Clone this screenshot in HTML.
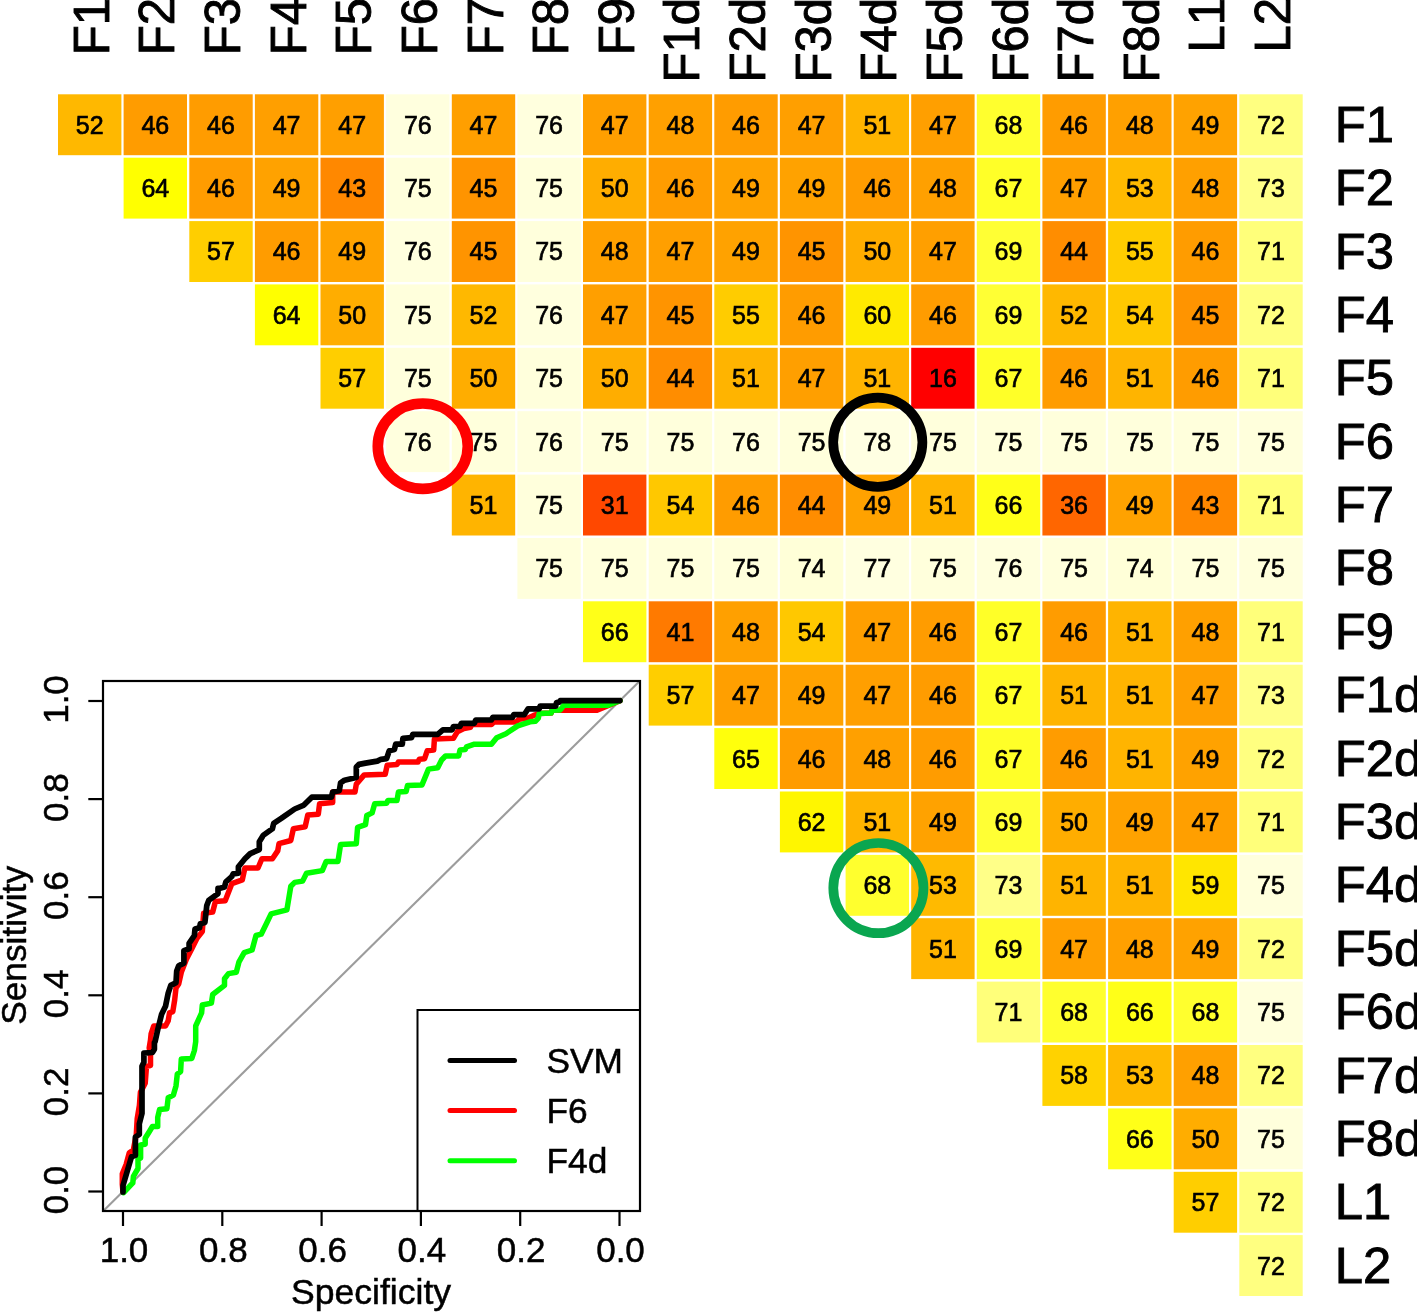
<!DOCTYPE html>
<html lang="en"><head><meta charset="utf-8"><title>Feature pair heatmap</title>
<style>html,body{margin:0;padding:0;background:#fff}svg{display:block}text.b{stroke:#000;stroke-width:0.5px}g.b text{stroke:#000;stroke-width:0.9px}g.v text{stroke:#000;stroke-width:0.65px}text{font-family:"Liberation Sans",Arial,Helvetica,sans-serif;fill:#000}</style>
</head><body>
<svg width="1417" height="1312" viewBox="0 0 1417 1312">
<rect x="0" y="0" width="1417" height="1312" fill="#fff"/>
<g id="cells">
<rect x="58.0" y="94.3" width="63.4" height="60.9" fill="#FFB800"/>
<rect x="123.6" y="94.3" width="63.4" height="60.9" fill="#FF9C00"/>
<rect x="189.3" y="94.3" width="63.4" height="60.9" fill="#FF9C00"/>
<rect x="254.9" y="94.3" width="63.4" height="60.9" fill="#FF9F00"/>
<rect x="320.5" y="94.3" width="63.4" height="60.9" fill="#FF9F00"/>
<rect x="386.1" y="94.3" width="63.4" height="60.9" fill="#FFFFDE"/>
<rect x="451.8" y="94.3" width="63.4" height="60.9" fill="#FF9F00"/>
<rect x="517.4" y="94.3" width="63.4" height="60.9" fill="#FFFFDE"/>
<rect x="583.0" y="94.3" width="63.4" height="60.9" fill="#FF9F00"/>
<rect x="648.7" y="94.3" width="63.4" height="60.9" fill="#FFA000"/>
<rect x="714.3" y="94.3" width="63.4" height="60.9" fill="#FF9C00"/>
<rect x="779.9" y="94.3" width="63.4" height="60.9" fill="#FF9F00"/>
<rect x="845.6" y="94.3" width="63.4" height="60.9" fill="#FFB400"/>
<rect x="911.2" y="94.3" width="63.4" height="60.9" fill="#FF9F00"/>
<rect x="976.8" y="94.3" width="63.4" height="60.9" fill="#FFFF2E"/>
<rect x="1042.4" y="94.3" width="63.4" height="60.9" fill="#FF9C00"/>
<rect x="1108.1" y="94.3" width="63.4" height="60.9" fill="#FFA000"/>
<rect x="1173.7" y="94.3" width="63.4" height="60.9" fill="#FFA200"/>
<rect x="1239.3" y="94.3" width="63.4" height="60.9" fill="#FFFF80"/>
<rect x="123.6" y="157.7" width="63.4" height="60.9" fill="#FFFF00"/>
<rect x="189.3" y="157.7" width="63.4" height="60.9" fill="#FF9C00"/>
<rect x="254.9" y="157.7" width="63.4" height="60.9" fill="#FFA200"/>
<rect x="320.5" y="157.7" width="63.4" height="60.9" fill="#FF8800"/>
<rect x="386.1" y="157.7" width="63.4" height="60.9" fill="#FFFFDC"/>
<rect x="451.8" y="157.7" width="63.4" height="60.9" fill="#FF9400"/>
<rect x="517.4" y="157.7" width="63.4" height="60.9" fill="#FFFFDC"/>
<rect x="583.0" y="157.7" width="63.4" height="60.9" fill="#FFAD00"/>
<rect x="648.7" y="157.7" width="63.4" height="60.9" fill="#FF9C00"/>
<rect x="714.3" y="157.7" width="63.4" height="60.9" fill="#FFA200"/>
<rect x="779.9" y="157.7" width="63.4" height="60.9" fill="#FFA200"/>
<rect x="845.6" y="157.7" width="63.4" height="60.9" fill="#FF9C00"/>
<rect x="911.2" y="157.7" width="63.4" height="60.9" fill="#FFA000"/>
<rect x="976.8" y="157.7" width="63.4" height="60.9" fill="#FFFF28"/>
<rect x="1042.4" y="157.7" width="63.4" height="60.9" fill="#FF9F00"/>
<rect x="1108.1" y="157.7" width="63.4" height="60.9" fill="#FFBA00"/>
<rect x="1173.7" y="157.7" width="63.4" height="60.9" fill="#FFA000"/>
<rect x="1239.3" y="157.7" width="63.4" height="60.9" fill="#FFFF88"/>
<rect x="189.3" y="221.1" width="63.4" height="60.9" fill="#FFCE00"/>
<rect x="254.9" y="221.1" width="63.4" height="60.9" fill="#FF9C00"/>
<rect x="320.5" y="221.1" width="63.4" height="60.9" fill="#FFA200"/>
<rect x="386.1" y="221.1" width="63.4" height="60.9" fill="#FFFFDE"/>
<rect x="451.8" y="221.1" width="63.4" height="60.9" fill="#FF9400"/>
<rect x="517.4" y="221.1" width="63.4" height="60.9" fill="#FFFFDC"/>
<rect x="583.0" y="221.1" width="63.4" height="60.9" fill="#FFA000"/>
<rect x="648.7" y="221.1" width="63.4" height="60.9" fill="#FF9F00"/>
<rect x="714.3" y="221.1" width="63.4" height="60.9" fill="#FFA200"/>
<rect x="779.9" y="221.1" width="63.4" height="60.9" fill="#FF9400"/>
<rect x="845.6" y="221.1" width="63.4" height="60.9" fill="#FFAD00"/>
<rect x="911.2" y="221.1" width="63.4" height="60.9" fill="#FF9F00"/>
<rect x="976.8" y="221.1" width="63.4" height="60.9" fill="#FFFF34"/>
<rect x="1042.4" y="221.1" width="63.4" height="60.9" fill="#FF8D00"/>
<rect x="1108.1" y="221.1" width="63.4" height="60.9" fill="#FFCC00"/>
<rect x="1173.7" y="221.1" width="63.4" height="60.9" fill="#FF9C00"/>
<rect x="1239.3" y="221.1" width="63.4" height="60.9" fill="#FFFF7A"/>
<rect x="254.9" y="284.4" width="63.4" height="60.9" fill="#FFFF00"/>
<rect x="320.5" y="284.4" width="63.4" height="60.9" fill="#FFAD00"/>
<rect x="386.1" y="284.4" width="63.4" height="60.9" fill="#FFFFDC"/>
<rect x="451.8" y="284.4" width="63.4" height="60.9" fill="#FFB800"/>
<rect x="517.4" y="284.4" width="63.4" height="60.9" fill="#FFFFDE"/>
<rect x="583.0" y="284.4" width="63.4" height="60.9" fill="#FF9F00"/>
<rect x="648.7" y="284.4" width="63.4" height="60.9" fill="#FF9400"/>
<rect x="714.3" y="284.4" width="63.4" height="60.9" fill="#FFCC00"/>
<rect x="779.9" y="284.4" width="63.4" height="60.9" fill="#FF9C00"/>
<rect x="845.6" y="284.4" width="63.4" height="60.9" fill="#FFEA00"/>
<rect x="911.2" y="284.4" width="63.4" height="60.9" fill="#FF9C00"/>
<rect x="976.8" y="284.4" width="63.4" height="60.9" fill="#FFFF34"/>
<rect x="1042.4" y="284.4" width="63.4" height="60.9" fill="#FFB800"/>
<rect x="1108.1" y="284.4" width="63.4" height="60.9" fill="#FFC800"/>
<rect x="1173.7" y="284.4" width="63.4" height="60.9" fill="#FF9400"/>
<rect x="1239.3" y="284.4" width="63.4" height="60.9" fill="#FFFF80"/>
<rect x="320.5" y="347.8" width="63.4" height="60.9" fill="#FFCE00"/>
<rect x="386.1" y="347.8" width="63.4" height="60.9" fill="#FFFFDC"/>
<rect x="451.8" y="347.8" width="63.4" height="60.9" fill="#FFAD00"/>
<rect x="517.4" y="347.8" width="63.4" height="60.9" fill="#FFFFDC"/>
<rect x="583.0" y="347.8" width="63.4" height="60.9" fill="#FFAD00"/>
<rect x="648.7" y="347.8" width="63.4" height="60.9" fill="#FF8D00"/>
<rect x="714.3" y="347.8" width="63.4" height="60.9" fill="#FFB400"/>
<rect x="779.9" y="347.8" width="63.4" height="60.9" fill="#FF9F00"/>
<rect x="845.6" y="347.8" width="63.4" height="60.9" fill="#FFB400"/>
<rect x="911.2" y="347.8" width="63.4" height="60.9" fill="#FF0000"/>
<rect x="976.8" y="347.8" width="63.4" height="60.9" fill="#FFFF28"/>
<rect x="1042.4" y="347.8" width="63.4" height="60.9" fill="#FF9C00"/>
<rect x="1108.1" y="347.8" width="63.4" height="60.9" fill="#FFB400"/>
<rect x="1173.7" y="347.8" width="63.4" height="60.9" fill="#FF9C00"/>
<rect x="1239.3" y="347.8" width="63.4" height="60.9" fill="#FFFF7A"/>
<rect x="386.1" y="411.2" width="63.4" height="60.9" fill="#FFFFDE"/>
<rect x="451.8" y="411.2" width="63.4" height="60.9" fill="#FFFFDC"/>
<rect x="517.4" y="411.2" width="63.4" height="60.9" fill="#FFFFDE"/>
<rect x="583.0" y="411.2" width="63.4" height="60.9" fill="#FFFFDC"/>
<rect x="648.7" y="411.2" width="63.4" height="60.9" fill="#FFFFDC"/>
<rect x="714.3" y="411.2" width="63.4" height="60.9" fill="#FFFFDE"/>
<rect x="779.9" y="411.2" width="63.4" height="60.9" fill="#FFFFDC"/>
<rect x="845.6" y="411.2" width="63.4" height="60.9" fill="#FFFFE2"/>
<rect x="911.2" y="411.2" width="63.4" height="60.9" fill="#FFFFDC"/>
<rect x="976.8" y="411.2" width="63.4" height="60.9" fill="#FFFFDC"/>
<rect x="1042.4" y="411.2" width="63.4" height="60.9" fill="#FFFFDC"/>
<rect x="1108.1" y="411.2" width="63.4" height="60.9" fill="#FFFFDC"/>
<rect x="1173.7" y="411.2" width="63.4" height="60.9" fill="#FFFFDC"/>
<rect x="1239.3" y="411.2" width="63.4" height="60.9" fill="#FFFFDC"/>
<rect x="451.8" y="474.6" width="63.4" height="60.9" fill="#FFB400"/>
<rect x="517.4" y="474.6" width="63.4" height="60.9" fill="#FFFFDC"/>
<rect x="583.0" y="474.6" width="63.4" height="60.9" fill="#FF4800"/>
<rect x="648.7" y="474.6" width="63.4" height="60.9" fill="#FFC800"/>
<rect x="714.3" y="474.6" width="63.4" height="60.9" fill="#FF9C00"/>
<rect x="779.9" y="474.6" width="63.4" height="60.9" fill="#FF8D00"/>
<rect x="845.6" y="474.6" width="63.4" height="60.9" fill="#FFA200"/>
<rect x="911.2" y="474.6" width="63.4" height="60.9" fill="#FFB400"/>
<rect x="976.8" y="474.6" width="63.4" height="60.9" fill="#FFFF18"/>
<rect x="1042.4" y="474.6" width="63.4" height="60.9" fill="#FF6600"/>
<rect x="1108.1" y="474.6" width="63.4" height="60.9" fill="#FFA200"/>
<rect x="1173.7" y="474.6" width="63.4" height="60.9" fill="#FF8800"/>
<rect x="1239.3" y="474.6" width="63.4" height="60.9" fill="#FFFF7A"/>
<rect x="517.4" y="538.0" width="63.4" height="60.9" fill="#FFFFDC"/>
<rect x="583.0" y="538.0" width="63.4" height="60.9" fill="#FFFFDC"/>
<rect x="648.7" y="538.0" width="63.4" height="60.9" fill="#FFFFDC"/>
<rect x="714.3" y="538.0" width="63.4" height="60.9" fill="#FFFFDC"/>
<rect x="779.9" y="538.0" width="63.4" height="60.9" fill="#FFFFD8"/>
<rect x="845.6" y="538.0" width="63.4" height="60.9" fill="#FFFFE0"/>
<rect x="911.2" y="538.0" width="63.4" height="60.9" fill="#FFFFDC"/>
<rect x="976.8" y="538.0" width="63.4" height="60.9" fill="#FFFFDE"/>
<rect x="1042.4" y="538.0" width="63.4" height="60.9" fill="#FFFFDC"/>
<rect x="1108.1" y="538.0" width="63.4" height="60.9" fill="#FFFFD8"/>
<rect x="1173.7" y="538.0" width="63.4" height="60.9" fill="#FFFFDC"/>
<rect x="1239.3" y="538.0" width="63.4" height="60.9" fill="#FFFFDC"/>
<rect x="583.0" y="601.3" width="63.4" height="60.9" fill="#FFFF18"/>
<rect x="648.7" y="601.3" width="63.4" height="60.9" fill="#FF7A00"/>
<rect x="714.3" y="601.3" width="63.4" height="60.9" fill="#FFA000"/>
<rect x="779.9" y="601.3" width="63.4" height="60.9" fill="#FFC800"/>
<rect x="845.6" y="601.3" width="63.4" height="60.9" fill="#FF9F00"/>
<rect x="911.2" y="601.3" width="63.4" height="60.9" fill="#FF9C00"/>
<rect x="976.8" y="601.3" width="63.4" height="60.9" fill="#FFFF28"/>
<rect x="1042.4" y="601.3" width="63.4" height="60.9" fill="#FF9C00"/>
<rect x="1108.1" y="601.3" width="63.4" height="60.9" fill="#FFB400"/>
<rect x="1173.7" y="601.3" width="63.4" height="60.9" fill="#FFA000"/>
<rect x="1239.3" y="601.3" width="63.4" height="60.9" fill="#FFFF7A"/>
<rect x="648.7" y="664.7" width="63.4" height="60.9" fill="#FFCE00"/>
<rect x="714.3" y="664.7" width="63.4" height="60.9" fill="#FF9F00"/>
<rect x="779.9" y="664.7" width="63.4" height="60.9" fill="#FFA200"/>
<rect x="845.6" y="664.7" width="63.4" height="60.9" fill="#FF9F00"/>
<rect x="911.2" y="664.7" width="63.4" height="60.9" fill="#FF9C00"/>
<rect x="976.8" y="664.7" width="63.4" height="60.9" fill="#FFFF28"/>
<rect x="1042.4" y="664.7" width="63.4" height="60.9" fill="#FFB400"/>
<rect x="1108.1" y="664.7" width="63.4" height="60.9" fill="#FFB400"/>
<rect x="1173.7" y="664.7" width="63.4" height="60.9" fill="#FF9F00"/>
<rect x="1239.3" y="664.7" width="63.4" height="60.9" fill="#FFFF88"/>
<rect x="714.3" y="728.1" width="63.4" height="60.9" fill="#FFFF0C"/>
<rect x="779.9" y="728.1" width="63.4" height="60.9" fill="#FF9C00"/>
<rect x="845.6" y="728.1" width="63.4" height="60.9" fill="#FFA000"/>
<rect x="911.2" y="728.1" width="63.4" height="60.9" fill="#FF9C00"/>
<rect x="976.8" y="728.1" width="63.4" height="60.9" fill="#FFFF28"/>
<rect x="1042.4" y="728.1" width="63.4" height="60.9" fill="#FF9C00"/>
<rect x="1108.1" y="728.1" width="63.4" height="60.9" fill="#FFB400"/>
<rect x="1173.7" y="728.1" width="63.4" height="60.9" fill="#FFA200"/>
<rect x="1239.3" y="728.1" width="63.4" height="60.9" fill="#FFFF80"/>
<rect x="779.9" y="791.5" width="63.4" height="60.9" fill="#FFF600"/>
<rect x="845.6" y="791.5" width="63.4" height="60.9" fill="#FFB400"/>
<rect x="911.2" y="791.5" width="63.4" height="60.9" fill="#FFA200"/>
<rect x="976.8" y="791.5" width="63.4" height="60.9" fill="#FFFF34"/>
<rect x="1042.4" y="791.5" width="63.4" height="60.9" fill="#FFAD00"/>
<rect x="1108.1" y="791.5" width="63.4" height="60.9" fill="#FFA200"/>
<rect x="1173.7" y="791.5" width="63.4" height="60.9" fill="#FF9F00"/>
<rect x="1239.3" y="791.5" width="63.4" height="60.9" fill="#FFFF7A"/>
<rect x="845.6" y="854.9" width="63.4" height="60.9" fill="#FFFF2E"/>
<rect x="911.2" y="854.9" width="63.4" height="60.9" fill="#FFBA00"/>
<rect x="976.8" y="854.9" width="63.4" height="60.9" fill="#FFFF88"/>
<rect x="1042.4" y="854.9" width="63.4" height="60.9" fill="#FFB400"/>
<rect x="1108.1" y="854.9" width="63.4" height="60.9" fill="#FFB400"/>
<rect x="1173.7" y="854.9" width="63.4" height="60.9" fill="#FFE600"/>
<rect x="1239.3" y="854.9" width="63.4" height="60.9" fill="#FFFFDC"/>
<rect x="911.2" y="918.2" width="63.4" height="60.9" fill="#FFB400"/>
<rect x="976.8" y="918.2" width="63.4" height="60.9" fill="#FFFF34"/>
<rect x="1042.4" y="918.2" width="63.4" height="60.9" fill="#FF9F00"/>
<rect x="1108.1" y="918.2" width="63.4" height="60.9" fill="#FFA000"/>
<rect x="1173.7" y="918.2" width="63.4" height="60.9" fill="#FFA200"/>
<rect x="1239.3" y="918.2" width="63.4" height="60.9" fill="#FFFF80"/>
<rect x="976.8" y="981.6" width="63.4" height="60.9" fill="#FFFF7A"/>
<rect x="1042.4" y="981.6" width="63.4" height="60.9" fill="#FFFF2E"/>
<rect x="1108.1" y="981.6" width="63.4" height="60.9" fill="#FFFF18"/>
<rect x="1173.7" y="981.6" width="63.4" height="60.9" fill="#FFFF2E"/>
<rect x="1239.3" y="981.6" width="63.4" height="60.9" fill="#FFFFDC"/>
<rect x="1042.4" y="1045.0" width="63.4" height="60.9" fill="#FFD200"/>
<rect x="1108.1" y="1045.0" width="63.4" height="60.9" fill="#FFBA00"/>
<rect x="1173.7" y="1045.0" width="63.4" height="60.9" fill="#FFA000"/>
<rect x="1239.3" y="1045.0" width="63.4" height="60.9" fill="#FFFF80"/>
<rect x="1108.1" y="1108.4" width="63.4" height="60.9" fill="#FFFF18"/>
<rect x="1173.7" y="1108.4" width="63.4" height="60.9" fill="#FFAD00"/>
<rect x="1239.3" y="1108.4" width="63.4" height="60.9" fill="#FFFFDC"/>
<rect x="1173.7" y="1171.8" width="63.4" height="60.9" fill="#FFCE00"/>
<rect x="1239.3" y="1171.8" width="63.4" height="60.9" fill="#FFFF80"/>
<rect x="1239.3" y="1235.1" width="63.4" height="60.9" fill="#FFFF80"/>
</g>
<g id="vals" class="v" font-size="25" text-anchor="middle">
<text x="89.7" y="133.7">52</text>
<text x="155.3" y="133.7">46</text>
<text x="221.0" y="133.7">46</text>
<text x="286.6" y="133.7">47</text>
<text x="352.2" y="133.7">47</text>
<text x="417.8" y="133.7">76</text>
<text x="483.5" y="133.7">47</text>
<text x="549.1" y="133.7">76</text>
<text x="614.7" y="133.7">47</text>
<text x="680.4" y="133.7">48</text>
<text x="746.0" y="133.7">46</text>
<text x="811.6" y="133.7">47</text>
<text x="877.3" y="133.7">51</text>
<text x="942.9" y="133.7">47</text>
<text x="1008.5" y="133.7">68</text>
<text x="1074.1" y="133.7">46</text>
<text x="1139.8" y="133.7">48</text>
<text x="1205.4" y="133.7">49</text>
<text x="1271.0" y="133.7">72</text>
<text x="155.3" y="197.0">64</text>
<text x="221.0" y="197.0">46</text>
<text x="286.6" y="197.0">49</text>
<text x="352.2" y="197.0">43</text>
<text x="417.8" y="197.0">75</text>
<text x="483.5" y="197.0">45</text>
<text x="549.1" y="197.0">75</text>
<text x="614.7" y="197.0">50</text>
<text x="680.4" y="197.0">46</text>
<text x="746.0" y="197.0">49</text>
<text x="811.6" y="197.0">49</text>
<text x="877.3" y="197.0">46</text>
<text x="942.9" y="197.0">48</text>
<text x="1008.5" y="197.0">67</text>
<text x="1074.1" y="197.0">47</text>
<text x="1139.8" y="197.0">53</text>
<text x="1205.4" y="197.0">48</text>
<text x="1271.0" y="197.0">73</text>
<text x="221.0" y="260.4">57</text>
<text x="286.6" y="260.4">46</text>
<text x="352.2" y="260.4">49</text>
<text x="417.8" y="260.4">76</text>
<text x="483.5" y="260.4">45</text>
<text x="549.1" y="260.4">75</text>
<text x="614.7" y="260.4">48</text>
<text x="680.4" y="260.4">47</text>
<text x="746.0" y="260.4">49</text>
<text x="811.6" y="260.4">45</text>
<text x="877.3" y="260.4">50</text>
<text x="942.9" y="260.4">47</text>
<text x="1008.5" y="260.4">69</text>
<text x="1074.1" y="260.4">44</text>
<text x="1139.8" y="260.4">55</text>
<text x="1205.4" y="260.4">46</text>
<text x="1271.0" y="260.4">71</text>
<text x="286.6" y="323.8">64</text>
<text x="352.2" y="323.8">50</text>
<text x="417.8" y="323.8">75</text>
<text x="483.5" y="323.8">52</text>
<text x="549.1" y="323.8">76</text>
<text x="614.7" y="323.8">47</text>
<text x="680.4" y="323.8">45</text>
<text x="746.0" y="323.8">55</text>
<text x="811.6" y="323.8">46</text>
<text x="877.3" y="323.8">60</text>
<text x="942.9" y="323.8">46</text>
<text x="1008.5" y="323.8">69</text>
<text x="1074.1" y="323.8">52</text>
<text x="1139.8" y="323.8">54</text>
<text x="1205.4" y="323.8">45</text>
<text x="1271.0" y="323.8">72</text>
<text x="352.2" y="387.2">57</text>
<text x="417.8" y="387.2">75</text>
<text x="483.5" y="387.2">50</text>
<text x="549.1" y="387.2">75</text>
<text x="614.7" y="387.2">50</text>
<text x="680.4" y="387.2">44</text>
<text x="746.0" y="387.2">51</text>
<text x="811.6" y="387.2">47</text>
<text x="877.3" y="387.2">51</text>
<text x="942.9" y="387.2">16</text>
<text x="1008.5" y="387.2">67</text>
<text x="1074.1" y="387.2">46</text>
<text x="1139.8" y="387.2">51</text>
<text x="1205.4" y="387.2">46</text>
<text x="1271.0" y="387.2">71</text>
<text x="417.8" y="450.6">76</text>
<text x="483.5" y="450.6">75</text>
<text x="549.1" y="450.6">76</text>
<text x="614.7" y="450.6">75</text>
<text x="680.4" y="450.6">75</text>
<text x="746.0" y="450.6">76</text>
<text x="811.6" y="450.6">75</text>
<text x="877.3" y="450.6">78</text>
<text x="942.9" y="450.6">75</text>
<text x="1008.5" y="450.6">75</text>
<text x="1074.1" y="450.6">75</text>
<text x="1139.8" y="450.6">75</text>
<text x="1205.4" y="450.6">75</text>
<text x="1271.0" y="450.6">75</text>
<text x="483.5" y="513.9">51</text>
<text x="549.1" y="513.9">75</text>
<text x="614.7" y="513.9">31</text>
<text x="680.4" y="513.9">54</text>
<text x="746.0" y="513.9">46</text>
<text x="811.6" y="513.9">44</text>
<text x="877.3" y="513.9">49</text>
<text x="942.9" y="513.9">51</text>
<text x="1008.5" y="513.9">66</text>
<text x="1074.1" y="513.9">36</text>
<text x="1139.8" y="513.9">49</text>
<text x="1205.4" y="513.9">43</text>
<text x="1271.0" y="513.9">71</text>
<text x="549.1" y="577.3">75</text>
<text x="614.7" y="577.3">75</text>
<text x="680.4" y="577.3">75</text>
<text x="746.0" y="577.3">75</text>
<text x="811.6" y="577.3">74</text>
<text x="877.3" y="577.3">77</text>
<text x="942.9" y="577.3">75</text>
<text x="1008.5" y="577.3">76</text>
<text x="1074.1" y="577.3">75</text>
<text x="1139.8" y="577.3">74</text>
<text x="1205.4" y="577.3">75</text>
<text x="1271.0" y="577.3">75</text>
<text x="614.7" y="640.7">66</text>
<text x="680.4" y="640.7">41</text>
<text x="746.0" y="640.7">48</text>
<text x="811.6" y="640.7">54</text>
<text x="877.3" y="640.7">47</text>
<text x="942.9" y="640.7">46</text>
<text x="1008.5" y="640.7">67</text>
<text x="1074.1" y="640.7">46</text>
<text x="1139.8" y="640.7">51</text>
<text x="1205.4" y="640.7">48</text>
<text x="1271.0" y="640.7">71</text>
<text x="680.4" y="704.1">57</text>
<text x="746.0" y="704.1">47</text>
<text x="811.6" y="704.1">49</text>
<text x="877.3" y="704.1">47</text>
<text x="942.9" y="704.1">46</text>
<text x="1008.5" y="704.1">67</text>
<text x="1074.1" y="704.1">51</text>
<text x="1139.8" y="704.1">51</text>
<text x="1205.4" y="704.1">47</text>
<text x="1271.0" y="704.1">73</text>
<text x="746.0" y="767.5">65</text>
<text x="811.6" y="767.5">46</text>
<text x="877.3" y="767.5">48</text>
<text x="942.9" y="767.5">46</text>
<text x="1008.5" y="767.5">67</text>
<text x="1074.1" y="767.5">46</text>
<text x="1139.8" y="767.5">51</text>
<text x="1205.4" y="767.5">49</text>
<text x="1271.0" y="767.5">72</text>
<text x="811.6" y="830.8">62</text>
<text x="877.3" y="830.8">51</text>
<text x="942.9" y="830.8">49</text>
<text x="1008.5" y="830.8">69</text>
<text x="1074.1" y="830.8">50</text>
<text x="1139.8" y="830.8">49</text>
<text x="1205.4" y="830.8">47</text>
<text x="1271.0" y="830.8">71</text>
<text x="877.3" y="894.2">68</text>
<text x="942.9" y="894.2">53</text>
<text x="1008.5" y="894.2">73</text>
<text x="1074.1" y="894.2">51</text>
<text x="1139.8" y="894.2">51</text>
<text x="1205.4" y="894.2">59</text>
<text x="1271.0" y="894.2">75</text>
<text x="942.9" y="957.6">51</text>
<text x="1008.5" y="957.6">69</text>
<text x="1074.1" y="957.6">47</text>
<text x="1139.8" y="957.6">48</text>
<text x="1205.4" y="957.6">49</text>
<text x="1271.0" y="957.6">72</text>
<text x="1008.5" y="1021.0">71</text>
<text x="1074.1" y="1021.0">68</text>
<text x="1139.8" y="1021.0">66</text>
<text x="1205.4" y="1021.0">68</text>
<text x="1271.0" y="1021.0">75</text>
<text x="1074.1" y="1084.4">58</text>
<text x="1139.8" y="1084.4">53</text>
<text x="1205.4" y="1084.4">48</text>
<text x="1271.0" y="1084.4">72</text>
<text x="1139.8" y="1147.7">66</text>
<text x="1205.4" y="1147.7">50</text>
<text x="1271.0" y="1147.7">75</text>
<text x="1205.4" y="1211.1">57</text>
<text x="1271.0" y="1211.1">72</text>
<text x="1271.0" y="1274.5">72</text>
</g>
<g id="colhdr" class="b" font-size="50.8" text-anchor="end">
<text transform="translate(108.7,-2) rotate(-90) scale(0.965,1)">F1</text>
<text transform="translate(174.3,-2) rotate(-90) scale(0.965,1)">F2</text>
<text transform="translate(240.0,-2) rotate(-90) scale(0.965,1)">F3</text>
<text transform="translate(305.6,-2) rotate(-90) scale(0.965,1)">F4</text>
<text transform="translate(371.2,-2) rotate(-90) scale(0.965,1)">F5</text>
<text transform="translate(436.8,-2) rotate(-90) scale(0.965,1)">F6</text>
<text transform="translate(502.5,-2) rotate(-90) scale(0.965,1)">F7</text>
<text transform="translate(568.1,-2) rotate(-90) scale(0.965,1)">F8</text>
<text transform="translate(633.7,-2) rotate(-90) scale(0.965,1)">F9</text>
<text transform="translate(699.4,-2) rotate(-90) scale(0.965,1)">F1d</text>
<text transform="translate(765.0,-2) rotate(-90) scale(0.965,1)">F2d</text>
<text transform="translate(830.6,-2) rotate(-90) scale(0.965,1)">F3d</text>
<text transform="translate(896.3,-2) rotate(-90) scale(0.965,1)">F4d</text>
<text transform="translate(961.9,-2) rotate(-90) scale(0.965,1)">F5d</text>
<text transform="translate(1027.5,-2) rotate(-90) scale(0.965,1)">F6d</text>
<text transform="translate(1093.1,-2) rotate(-90) scale(0.965,1)">F7d</text>
<text transform="translate(1158.8,-2) rotate(-90) scale(0.965,1)">F8d</text>
<text transform="translate(1224.4,-2) rotate(-90) scale(0.965,1)">L1</text>
<text transform="translate(1290.0,-2) rotate(-90) scale(0.965,1)">L2</text>
</g>
<g id="rowhdr" class="b" font-size="50.8">
<text transform="translate(1334.8,141.8) scale(1,0.972)">F1</text>
<text transform="translate(1334.8,205.1) scale(1,0.972)">F2</text>
<text transform="translate(1334.8,268.5) scale(1,0.972)">F3</text>
<text transform="translate(1334.8,331.9) scale(1,0.972)">F4</text>
<text transform="translate(1334.8,395.3) scale(1,0.972)">F5</text>
<text transform="translate(1334.8,458.7) scale(1,0.972)">F6</text>
<text transform="translate(1334.8,522.0) scale(1,0.972)">F7</text>
<text transform="translate(1334.8,585.4) scale(1,0.972)">F8</text>
<text transform="translate(1334.8,648.8) scale(1,0.972)">F9</text>
<text transform="translate(1334.8,712.2) scale(1,0.972)">F1d</text>
<text transform="translate(1334.8,775.6) scale(1,0.972)">F2d</text>
<text transform="translate(1334.8,838.9) scale(1,0.972)">F3d</text>
<text transform="translate(1334.8,902.3) scale(1,0.972)">F4d</text>
<text transform="translate(1334.8,965.7) scale(1,0.972)">F5d</text>
<text transform="translate(1334.8,1029.1) scale(1,0.972)">F6d</text>
<text transform="translate(1334.8,1092.5) scale(1,0.972)">F7d</text>
<text transform="translate(1334.8,1155.8) scale(1,0.972)">F8d</text>
<text transform="translate(1334.8,1219.2) scale(1,0.972)">L1</text>
<text transform="translate(1334.8,1282.6) scale(1,0.972)">L2</text>
</g>
<g id="circles" fill="none">
<ellipse cx="422.8" cy="446.2" rx="45" ry="42.7" stroke="#ff0000" stroke-width="10.7"/>
<circle cx="877.8" cy="442.3" r="44.6" stroke="#000" stroke-width="9.7"/>
<circle cx="878.4" cy="888.1" r="45.1" stroke="#0aa650" stroke-width="9.7"/>
</g>
<g id="roc">
<rect x="103" y="681" width="537" height="530" fill="#fff" stroke="none"/>
<line x1="103" y1="1211.2" x2="640" y2="680.8" stroke="#9c9c9c" stroke-width="2.1"/>
<path d="M123.0 1192.0 L122.3 1184.2 L122.3 1173.7 L126.1 1164.5 L129.3 1152.7 L133.3 1150.1 L136.3 1134.4 L137.2 1118.7 L139.4 1105.5 L140.4 1092.4 L145.2 1083.3 L146.5 1066.2 L150.5 1065.6 L150.5 1054.4 L149.2 1047.9 L150.5 1040.0 L151.1 1033.9 L153.7 1026.0 L165.5 1026.0 L168.2 1020.8 L169.5 1012.9 L172.8 1011.6 L174.7 999.8 L176.0 988.0 L178.7 984.0 L181.3 972.3 L186.5 959.1 L191.8 948.7 L197.0 938.2 L202.3 931.6 L203.6 913.3 L212.7 912.0 L215.4 901.5 L225.2 900.8 L231.8 883.7 L242.3 879.8 L244.9 868.0 L258.0 868.0 L261.9 858.8 L272.4 858.8 L277.7 850.9 L279.0 843.7 L290.8 840.5 L293.4 828.7 L305.2 826.7 L307.8 814.9 L318.3 814.2 L319.6 803.7 L332.7 802.4 L332.7 792.0 L355.0 792.0 L356.3 784.1 L364.2 774.9 L385.2 774.3 L387.2 765.2 L397.0 764.6 L398.4 761.9 L418.0 761.9 L419.3 759.3 L424.6 758.7 L427.2 750.8 L433.7 750.1 L434.4 739.0 L453.4 738.3 L457.3 731.8 L463.9 728.5 L470.5 727.2 L471.8 724.6 L491.4 724.6 L494.1 721.9 L516.3 721.9 L519.0 719.3 L528.1 718.0 L533.7 715.4 L539.2 713.5 L551.1 713.1 L552.0 710.3 L597.0 710.3 L620.0 700.7" fill="none" stroke="#ff0000" stroke-width="5.5" stroke-linejoin="round" stroke-linecap="round"/>
<path d="M123.6 1192.7 L132.8 1182.9 L133.4 1176.3 L138.0 1168.5 L138.0 1159.3 L140.6 1158.0 L140.6 1144.9 L145.2 1144.2 L145.2 1138.3 L150.0 1130.5 L152.4 1126.5 L157.7 1126.5 L157.7 1117.3 L159.6 1109.5 L166.9 1108.8 L168.2 1097.7 L173.4 1095.1 L176.0 1085.9 L177.3 1074.1 L180.6 1071.5 L181.3 1059.0 L191.8 1058.4 L194.4 1050.5 L195.7 1041.7 L195.7 1026.0 L201.6 1012.9 L202.3 1005.0 L211.4 1003.1 L212.7 994.5 L224.5 985.4 L224.5 978.8 L228.5 973.6 L236.3 972.3 L239.0 961.8 L244.2 952.6 L252.1 950.0 L256.0 935.5 L261.2 934.2 L267.2 922.0 L271.1 913.9 L286.9 909.9 L290.8 886.3 L294.7 882.4 L302.6 881.1 L306.5 873.2 L322.3 870.6 L326.2 861.4 L338.0 861.4 L340.6 844.4 L356.3 843.7 L357.6 827.3 L365.5 824.7 L366.8 815.5 L372.1 812.9 L374.7 803.7 L386.6 803.2 L387.9 800.6 L397.0 800.6 L398.4 792.1 L406.2 791.4 L407.5 785.5 L422.0 784.9 L428.5 769.1 L437.7 767.8 L441.6 760.0 L445.5 756.0 L458.7 756.0 L460.0 750.1 L465.2 749.5 L466.5 746.9 L474.4 744.2 L491.4 744.2 L496.7 737.7 L505.9 733.7 L517.7 725.9 L530.0 721.8 L535.5 721.3 L538.3 718.1 L539.2 713.5 L551.1 713.1 L552.0 710.3 L560.3 709.9 L563.9 705.2 L608.0 705.2 L620.0 700.7" fill="none" stroke="#00ff00" stroke-width="5.5" stroke-linejoin="round" stroke-linecap="round"/>
<path d="M123.0 1192.0 L123.0 1185.5 L131.5 1156.7 L135.4 1155.4 L135.4 1137.0 L139.3 1134.4 L139.3 1123.9 L142.0 1113.4 L142.0 1066.2 L143.9 1062.3 L143.9 1053.1 L152.4 1052.5 L154.4 1049.2 L154.4 1042.6 L155.1 1041.7 L157.7 1029.9 L161.6 1014.2 L165.5 1006.3 L168.2 993.2 L170.8 985.4 L176.0 982.7 L176.7 970.9 L178.7 965.7 L183.9 963.1 L183.9 950.6 L189.1 948.7 L189.1 943.4 L194.4 935.5 L195.0 929.0 L199.6 927.7 L200.3 923.7 L204.9 922.4 L206.8 905.4 L208.8 900.2 L218.0 893.6 L218.0 888.4 L220.0 888.3 L224.5 887.0 L225.9 881.8 L231.8 876.5 L233.1 873.9 L238.4 873.2 L238.4 866.7 L244.9 858.8 L250.2 853.6 L259.3 849.6 L259.3 841.8 L263.3 835.2 L272.4 828.7 L273.7 823.4 L281.6 818.2 L294.7 809.0 L303.9 805.1 L311.8 797.2 L331.4 797.2 L332.7 792.0 L339.3 790.6 L340.6 782.8 L344.5 780.2 L356.3 777.5 L356.3 767.0 L359.0 764.4 L365.5 763.1 L377.3 761.1 L381.0 759.3 L386.6 758.7 L389.2 750.8 L394.4 749.5 L395.7 744.2 L402.3 744.2 L402.9 738.3 L411.5 737.7 L412.8 734.4 L437.7 734.4 L442.9 729.8 L452.1 729.8 L453.4 726.5 L460.0 726.5 L461.3 723.3 L474.4 723.3 L475.7 720.0 L491.4 720.0 L492.7 717.4 L512.4 717.4 L513.7 714.7 L524.2 714.7 L528.1 708.8 L539.2 708.8 L540.1 706.2 L555.7 706.2 L556.6 702.5 L559.4 702.1 L560.3 700.6 L619.9 700.6" fill="none" stroke="#000" stroke-width="5.7" stroke-linejoin="round" stroke-linecap="round"/>
<rect x="417.5" y="1010" width="222.5" height="201" fill="#fff" stroke="#000" stroke-width="2"/>
<line x1="450" y1="1060.5" x2="514.5" y2="1060.5" stroke="#000" stroke-width="5" stroke-linecap="round"/>
<text x="546.5" y="1072.5" font-size="35.3" class="b">SVM</text>
<line x1="450" y1="1110.6" x2="514.5" y2="1110.6" stroke="#ff0000" stroke-width="5" stroke-linecap="round"/>
<text x="546.5" y="1122.6" font-size="35.3" class="b">F6</text>
<line x1="450" y1="1160.7" x2="514.5" y2="1160.7" stroke="#00ff00" stroke-width="5" stroke-linecap="round"/>
<text x="546.5" y="1172.7" font-size="35.3" class="b">F4d</text>
<rect x="103" y="681" width="537" height="530" fill="none" stroke="#000" stroke-width="2.2"/>
<line x1="123.0" y1="1211" x2="123.0" y2="1226" stroke="#000" stroke-width="2.2"/>
<text x="124.0" y="1262" font-size="35" text-anchor="middle" class="b">1.0</text>
<line x1="88.3" y1="701.0" x2="103" y2="701.0" stroke="#000" stroke-width="2.2"/>
<text transform="translate(68.2,699.5) rotate(-90)" font-size="35" text-anchor="middle" class="b">1.0</text>
<line x1="222.3" y1="1211" x2="222.3" y2="1226" stroke="#000" stroke-width="2.2"/>
<text x="223.3" y="1262" font-size="35" text-anchor="middle" class="b">0.8</text>
<line x1="88.3" y1="799.1" x2="103" y2="799.1" stroke="#000" stroke-width="2.2"/>
<text transform="translate(68.2,797.6) rotate(-90)" font-size="35" text-anchor="middle" class="b">0.8</text>
<line x1="321.6" y1="1211" x2="321.6" y2="1226" stroke="#000" stroke-width="2.2"/>
<text x="322.6" y="1262" font-size="35" text-anchor="middle" class="b">0.6</text>
<line x1="88.3" y1="897.2" x2="103" y2="897.2" stroke="#000" stroke-width="2.2"/>
<text transform="translate(68.2,895.7) rotate(-90)" font-size="35" text-anchor="middle" class="b">0.6</text>
<line x1="420.9" y1="1211" x2="420.9" y2="1226" stroke="#000" stroke-width="2.2"/>
<text x="421.9" y="1262" font-size="35" text-anchor="middle" class="b">0.4</text>
<line x1="88.3" y1="995.3" x2="103" y2="995.3" stroke="#000" stroke-width="2.2"/>
<text transform="translate(68.2,993.8) rotate(-90)" font-size="35" text-anchor="middle" class="b">0.4</text>
<line x1="520.2" y1="1211" x2="520.2" y2="1226" stroke="#000" stroke-width="2.2"/>
<text x="521.2" y="1262" font-size="35" text-anchor="middle" class="b">0.2</text>
<line x1="88.3" y1="1093.4" x2="103" y2="1093.4" stroke="#000" stroke-width="2.2"/>
<text transform="translate(68.2,1091.9) rotate(-90)" font-size="35" text-anchor="middle" class="b">0.2</text>
<line x1="619.5" y1="1211" x2="619.5" y2="1226" stroke="#000" stroke-width="2.2"/>
<text x="620.5" y="1262" font-size="35" text-anchor="middle" class="b">0.0</text>
<line x1="88.3" y1="1191.5" x2="103" y2="1191.5" stroke="#000" stroke-width="2.2"/>
<text transform="translate(68.2,1190.0) rotate(-90)" font-size="35" text-anchor="middle" class="b">0.0</text>
<text x="371" y="1303.7" font-size="35.6" text-anchor="middle" class="b">Specificity</text>
<text transform="translate(25.8,945.4) rotate(-90)" font-size="35.3" text-anchor="middle" class="b">Sensitivity</text>
</g>
</svg></body></html>
